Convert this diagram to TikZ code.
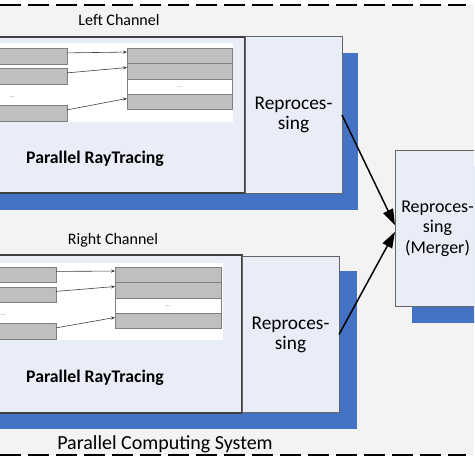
\documentclass[tikz,border=0pt]{standalone}
\usepackage{fontspec}
\setmainfont{Carlito}
\usetikzlibrary{arrows.meta,positioning}

\definecolor{bgGray}{RGB}{243,243,243}
\definecolor{boxBlue}{RGB}{232,237,247}
\definecolor{shadeBlue}{RGB}{68,114,196}
\definecolor{barFill}{RGB}{191,191,191}
\definecolor{barLine}{RGB}{127,127,127}
\definecolor{edgeDark}{RGB}{64,64,64}

\begin{document}
\begin{tikzpicture}[x=0.75pt,y=0.75pt,yscale=-1,xscale=1,
	panel/.style={draw=edgeDark,fill=boxBlue,line width=0.8},
	shade/.style={fill=shadeBlue},
	procbox/.style={draw=edgeDark!80,fill=boxBlue,line width=0.7,inner sep=0,outer sep=0,
		minimum width=72.75,minimum height=117.5,align=center,
		font=\fontsize{14.5}{15}\selectfont},
	bar/.style={draw=barLine,fill=barFill,line width=0.7,inner sep=0,outer sep=0,
		minimum width=67.5,minimum height=11.4},
	row/.style={bar,minimum height=11.6},
	dots/.style={text=barLine,font=\tiny},
	thin/.style={draw=edgeDark,line width=0.45,-{Stealth[length=3pt,width=2.4pt]}},
	flow/.style={draw=black,line width=1.1,-{Triangle[length=12pt,width=8pt]}},
	chanlbl/.style={font=\fontsize{12}{14}\selectfont,inner sep=0.75pt},
	taskbl/.style={font=\bfseries\fontsize{13.3}{16}\selectfont,inner sep=0.75pt}]
	\clip (0,0) rectangle (474,474);
	
	%Shape: Background
	\fill[white] (0,0) rectangle (474,474);
	\fill[bgGray] (0,5) rectangle (474,455);
	%Straight Lines: frame
	\draw[line width=1.6,dash pattern=on 15.5pt off 5.5pt] (0,5) -- (466,5);
	\draw[line width=1.6,dash pattern=on 15.5pt off 5.5pt] (0,455) -- (466,455);
	
	%Shape: Rectangle - left channel
	\fill[shade] (-10,53) rectangle (358,210);
	\draw[panel] (-10,37) rectangle (245,193);
	\fill[white] (-10,43) rectangle (233,122);
	\node[procbox] (procL) at (293.5,115) {Reproces-\\sing};
	
	\node[bar,anchor=east] (barLa) at (67,56.5) {};
	\node[bar,anchor=east] (barLb) at (67,76.5) {};
	\node[bar,anchor=east] (barLc) at (67,113.5) {};
	\draw (12,97) node [dots] (dotLa) {...};
	
	\node[row,minimum width=78.75] (rowLa) at (179.5,55.8) {};
	\node[row,minimum width=78.75,below=0pt of rowLa] (rowLb) {};
	\node[row,minimum width=78.75,fill=white,below=0pt of rowLb] (rowLc) {};
	\node[row,minimum width=78.75,below=0pt of rowLc] (rowLd) {};
	\draw (rowLc) node [dots] (dotLb) {...};
	
	%Straight Lines
	\draw[thin] ([yshift=3pt]barLa.north east) -- ([yshift=3pt]rowLa.north west);
	\draw[thin] ([yshift=3pt]barLb.north east) -- ([yshift=3pt]rowLb.north west);
	\draw[thin] ([yshift=3pt]barLc.north east) -- ([yshift=3pt]rowLd.north west);
	
	%Shape: Rectangle - right channel
	\fill[shade] (-10,271) rectangle (357,429);
	\draw[panel] (-10,255) rectangle (242,413);
	\fill[white] (-10,263) rectangle (223,340);
	\node[procbox] (procR) at (290.5,334.5) {Reproces-\\sing};
	
	\node[bar,anchor=east] (barRa) at (56,275) {};
	\node[bar,anchor=east] (barRb) at (56,295) {};
	\node[bar,anchor=east] (barRc) at (56,331.5) {};
	\draw (3,315) node [dots] (dotRa) {...};
	
	\node[row,minimum width=79.5] (rowRa) at (168,274.8) {};
	\node[row,minimum width=79.5,below=0pt of rowRa] (rowRb) {};
	\node[row,minimum width=79.5,fill=white,below=0pt of rowRb] (rowRc) {};
	\node[row,minimum width=79.5,below=0pt of rowRc] (rowRd) {};
	\draw (rowRc) node [dots] (dotRb) {...};
	
	%Straight Lines
	\draw[thin] ([yshift=3pt]barRa.north east) -- ([yshift=3pt]rowRa.north west);
	\draw[thin] ([yshift=3pt]barRb.north east) -- ([yshift=3pt]rowRb.north west);
	\draw[thin] ([yshift=3pt]barRc.north east) -- ([yshift=3pt]rowRd.north west);
	
	%Shape: Rectangle - merger
	\fill[shade] (412,166) rectangle (502,323);
	\node[procbox,minimum width=67.5,font=\fontsize{13.5}{15.5}\selectfont] (merge) at (440,228.5) {};
	\draw (437.5,228.5) node [align=center,inner sep=0,font=\fontsize{13.5}{15.5}\selectfont] (mergeTxt) {Reproces-\\sing\\(Merger)};
	
	%Straight Lines
	\draw[flow] (procL.east) -- ([yshift=-2.5pt]merge.west);
	\draw[flow] (procR.east) -- ([yshift=2.5pt]merge.west);
	
	% Text Node
	\draw (119,20.5) node [chanlbl] (lblLeft) {Left Channel};
	% Text Node
	\draw (113,240.5) node [chanlbl] (lblRight) {Right Channel};
	% Text Node
	\draw (95,159) node [taskbl] (taskL) {Parallel RayTracing};
	% Text Node
	\draw (95,378) node [taskbl] (taskR) {Parallel RayTracing};
	% Text Node
	\draw (165,444.5) node [font=\fontsize{15}{18}\selectfont,inner sep=0.75pt] (lblSys) {Parallel Computing System};
	
\end{tikzpicture}
\end{document}
